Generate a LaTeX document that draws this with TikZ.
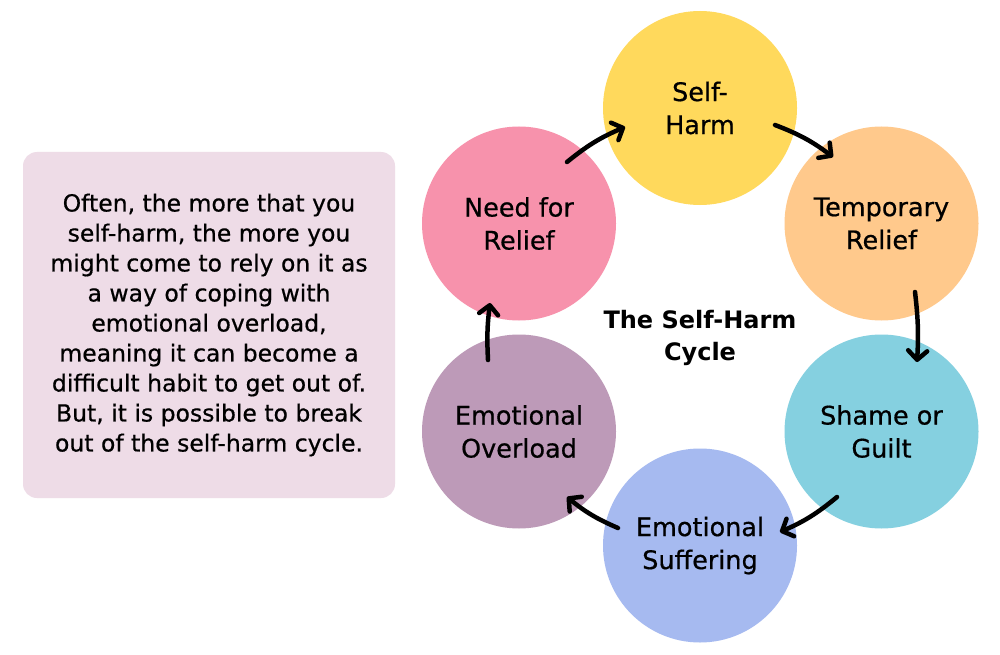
\documentclass[tikz,border=0pt]{standalone}
\usepackage{fontspec}
\setmainfont{DejaVu Sans}
\newfontfamily\medfont[RawFeature={embolden=0.6}]{DejaVu Sans}
\usetikzlibrary{arrows.meta,calc}
\definecolor{cSH}{HTML}{FFD95C}
\definecolor{cTR}{HTML}{FFC98C}
\definecolor{cSG}{HTML}{85D0E0}
\definecolor{cES}{HTML}{A6BAF0}
\definecolor{cEO}{HTML}{BD9AB8}
\definecolor{cNR}{HTML}{F792AC}
\definecolor{cBox}{HTML}{EEDCE7}
\tikzset{
  blob/.style={circle, minimum size=194pt, inner sep=0pt, align=center,
    font=\medfont\fontsize{25.5}{33}\selectfont},
  cyc/.style={line width=4.5pt, line cap=round,
    -{Straight Barb[length=9pt,width=19pt,line width=4.5pt,line cap=round,line join=round]}},
}
\begin{document}
\begin{tikzpicture}[x=1pt,y=-1pt]
\useasboundingbox (0,0) rectangle (1000,655);
\fill[white] (0,0) rectangle (1000,655);
% text box
\fill[cBox, rounded corners=14pt] (23,152) rectangle (395,498);
\node[align=center, font=\medfont\fontsize{23.5}{30}\selectfont] (txt) at (209,325)
  {Often, the more that you\\ self-harm, the more you\\ might come to rely on it as\\ a way of coping with\\ emotional overload,\\ meaning it can become a\\ difficult habit to get out of.\\ But, it is possible to break\\ out of the self-harm cycle.};
% circles
\node[blob, fill=cSH] (sh) at (700,108) {Self-\\Harm};
\node[blob, fill=cTR] (tr) at (881.5,223.5) {Temporary\\Relief};
\node[blob, fill=cSG] (sg) at (881.5,431.5) {Shame or\\Guilt};
\node[blob, fill=cES] (es) at (700,545.5) {Emotional\\Suffering};
\node[blob, fill=cEO] (eo) at (519,431.5) {Emotional\\Overload};
\node[blob, fill=cNR] (nr) at (519,223.5) {Need for\\Relief};
% title
\node[align=center, font=\fontsize{24}{32}\bfseries\selectfont] (title) at (700,338) {The Self-Harm\\Cycle};
% arrows
\draw[cyc] ($(nr)+(48,-61.5)$) to[bend left=8] ($(sh)+(-75,19)$);
\draw[cyc] ($(sh)+(75,17)$) to[bend left=8] ($(tr)+(-48.5,-66.5)$);
\draw[cyc] ($(tr)+(33.5,68.5)$) to[bend left=5] ($(sg)+(35.5,-69.5)$);
\draw[cyc] ($(sg)+(-44.5,65.5)$) to[bend left=8] ($(es)+(80,-13.5)$);
\draw[cyc] ($(es)+(-82,-17.5)$) to[bend left=8] ($(eo)+(48,65.5)$);
\draw[cyc] ($(eo)+(-31,-71.5)$) to[bend left=5] ($(nr)+(-29,79.5)$);
\end{tikzpicture}
\end{document}
